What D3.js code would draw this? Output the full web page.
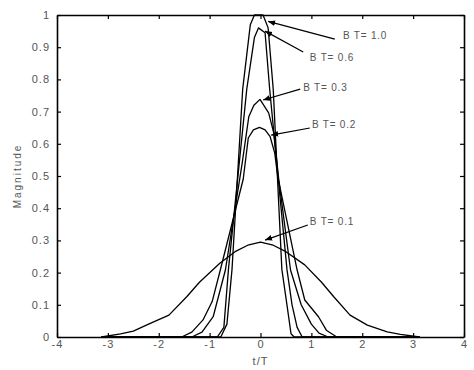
<!DOCTYPE html>
<html>
<head>
<meta charset="utf-8">
<script src="https://cdn.jsdelivr.net/npm/d3@7"></script>
<style>
  body { margin: 0; background: #fff; }
  #chart text { font-family: "Liberation Sans", Arial, sans-serif; fill: #555; }
</style>
</head>
<body>
<div id="chart"></div>
<script>
// tick values
var xTicks = [-4, -3, -2, -1, 0, 1, 2, 3, 4];
var yTicks = [0, 0.1, 0.2, 0.3, 0.4, 0.5, 0.6, 0.7, 0.8, 0.9, 1];

// curves (t/T, magnitude)
var tBT10 = [-3.125, -0.78, -0.66, -0.56, -0.35, -0.2, -0.12, 0.05, 0.15, 0.25, 0.42, 0.52, 0.6, 0.66, 3.125];
var vBT10 = [0, 0, 0.04, 0.21, 0.77, 0.97, 1.0, 1.0, 0.96, 0.77, 0.21, 0.1, 0.01, 0, 0];

var tBT06 = [-3.125, -0.85, -0.72, -0.63, -0.27, -0.12, -0.04, 0.09, 0.18, 0.52, 0.62, 0.72, 0.82, 3.125];
var vBT06 = [0, 0, 0.03, 0.21, 0.77, 0.93, 0.96, 0.945, 0.77, 0.21, 0.1, 0.03, 0, 0];

var tBT03 = [-3.125, -1.35, -1.15, -0.93, -0.69, -0.36, -0.23, -0.13, -0.01, 0.16, 0.26, 0.36, 0.59, 0.8, 1.0, 1.15, 1.33, 3.125];
var vBT03 = [0, 0, 0.015, 0.063, 0.208, 0.54, 0.684, 0.72, 0.738, 0.696, 0.634, 0.488, 0.208, 0.1, 0.04, 0.012, 0, 0];

var tBT02 = [-3.125, -1.55, -1.35, -1.13, -0.95, -0.79, -0.34, -0.24, -0.14, -0.02, 0.09, 0.19, 0.28, 0.34, 0.72, 0.87, 1.14, 1.3, 1.5, 3.125];
var vBT02 = [0, 0, 0.015, 0.053, 0.11, 0.208, 0.49, 0.618, 0.643, 0.651, 0.643, 0.622, 0.571, 0.497, 0.208, 0.115, 0.063, 0.02, 0, 0];

var tBT01 = [-3.125, -2.75, -2.5, -2.2, -1.8, -1.45, -1.2, -0.8, -0.5, -0.25, 0, 0.25, 0.5, 0.87, 1.2, 1.44, 1.76, 2.1, 2.49, 2.75, 3.125];
var vBT01 = [0, 0.01, 0.018, 0.04, 0.068, 0.125, 0.17, 0.229, 0.265, 0.285, 0.295, 0.285, 0.265, 0.224, 0.17, 0.125, 0.068, 0.037, 0.016, 0.008, 0];

// labels and arrow tips for each curve (data coords)
var noteLabels = ["B T= 1.0", "B T= 0.6", "B T= 0.3", "B T= 0.2", "B T= 0.1"];
var noteTip = [[0.15, 0.98], [0.09, 0.95], [0.05, 0.736], [0.21, 0.627], [0.09, 0.301]];
var noteTail = [[1.46, 0.925], [0.84, 0.885], [0.78, 0.77], [0.97, 0.649], [0.93, 0.348]];
var noteText = [[1.62, 0.935], [0.97, 0.866], [0.84, 0.773], [1.01, 0.658], [0.97, 0.357]];

var series = [[tBT10, vBT10], [tBT06, vBT06], [tBT03, vBT03], [tBT02, vBT02], [tBT01, vBT01]];

var width = 474, height = 370;
var margin = {top: 15, right: 10, bottom: 33, left: 57};

var svg = d3.select("#chart").append("svg")
    .attr("width", width)
    .attr("height", height);

var x = d3.scaleLinear().domain([-4, 4]).range([margin.left, width - margin.right]);
var y = d3.scaleLinear().domain([0, 1]).range([height - margin.bottom, margin.top]);
var fmt = function(d) { return String(d); };

svg.append("defs").append("marker")
    .attr("id", "arr")
    .attr("viewBox", "0 0 10 10")
    .attr("refX", 10).attr("refY", 5)
    .attr("markerWidth", 7).attr("markerHeight", 7)
    .attr("markerUnits", "userSpaceOnUse")
    .attr("orient", "auto")
  .append("path")
    .attr("d", "M0,1 L10,5 L0,9 Z")
    .attr("fill", "#000");

// axes, ticks pointing inward
var axB = svg.append("g").attr("transform", "translate(0," + y(0) + ")")
    .call(d3.axisBottom(x).tickValues(xTicks).tickFormat(fmt).tickSizeInner(-4).tickSizeOuter(0).tickPadding(3));
var axT = svg.append("g").attr("transform", "translate(0," + y(1) + ")")
    .call(d3.axisTop(x).tickValues(xTicks).tickSizeInner(-4).tickSizeOuter(0));
var axL = svg.append("g").attr("transform", "translate(" + x(-4) + ",0)")
    .call(d3.axisLeft(y).tickValues(yTicks).tickFormat(fmt).tickSizeInner(-4).tickSizeOuter(0).tickPadding(7));
var axR = svg.append("g").attr("transform", "translate(" + x(4) + ",0)")
    .call(d3.axisRight(y).tickValues(yTicks).tickSizeInner(-4).tickSizeOuter(0));

axT.selectAll(".tick text").remove();
axR.selectAll(".tick text").remove();

[axB, axT, axL, axR].forEach(function(a) {
  a.select(".domain").attr("stroke", "#000").attr("stroke-width", 1.6);
  a.selectAll(".tick line").attr("stroke", "#000").attr("stroke-width", 1.2);
  a.selectAll(".tick text").attr("font-size", 11).attr("letter-spacing", "1px");
});

// curves
var line = d3.line().x(function(d) { return x(d[0]); }).y(function(d) { return y(d[1]); });
series.forEach(function(s) {
  var pts = s[0].map(function(t, i) { return [t, s[1][i]]; });
  svg.append("path")
      .datum(pts)
      .attr("d", line)
      .attr("fill", "none")
      .attr("stroke", "#000")
      .attr("stroke-width", 1.3)
      .attr("stroke-linejoin", "round");
});

// annotations
noteLabels.forEach(function(lab, i) {
  svg.append("line")
      .attr("x1", x(noteTail[i][0])).attr("y1", y(noteTail[i][1]))
      .attr("x2", x(noteTip[i][0])).attr("y2", y(noteTip[i][1]))
      .attr("stroke", "#000").attr("stroke-width", 1.2)
      .attr("marker-end", "url(#arr)");
  svg.append("text")
      .attr("x", x(noteText[i][0])).attr("y", y(noteText[i][1]))
      .attr("dominant-baseline", "middle")
      .attr("font-size", 10)
      .attr("letter-spacing", "0.8px")
      .text(lab);
});

// axis titles
svg.append("text")
    .attr("x", x(0)).attr("y", 365)
    .attr("text-anchor", "middle")
    .attr("font-size", 11)
    .attr("letter-spacing", "1px")
    .text("t/T");

svg.append("text")
    .attr("transform", "translate(21," + y(0.5) + ") rotate(-90)")
    .attr("text-anchor", "middle")
    .attr("font-size", 10)
    .attr("letter-spacing", "2px")
    .text("Magnitude");
</script>
</body>
</html>
